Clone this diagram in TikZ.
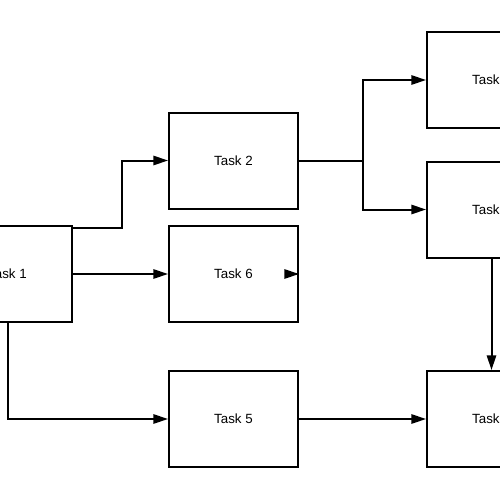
\documentclass[tikz,border=0pt]{standalone}
\usepackage{fontspec}
\setmainfont{Liberation Sans}
\usetikzlibrary{arrows.meta,calc}
\tikzset{
  task/.style={draw, line width=1.5pt, fill=white, minimum width=96.75pt, minimum height=72pt, inner sep=0pt, font=\fontsize{10}{12}\selectfont},
  arr/.style={line width=1.5pt, -{Triangle[length=11pt,width=7pt]}}
}
\begin{document}
\begin{tikzpicture}[x=0.75pt,y=0.75pt,yscale=-1,xscale=1]
\useasboundingbox (0,0) rectangle (500,500);
\clip (0,0) rectangle (500,500);

% Tasks
\node[task] (t1) at (7.5,274) {Task 1};
\node[task] (t2) at (233.5,160.5) {Task 2};
\node[task] (t6) at (233.5,274) {Task 6};
\node[task] (t5) at (233.5,419) {Task 5};
\node[task] (t3) at (491.5,80) {Task 3};
\node[task] (t4) at (491.5,209.5) {Task 4};
\node[task] (t7) at (491.5,419) {Task 7};

% Connectors
\draw[arr] ($(t1.north east)+(0,3)$) -- ++(49,0) |- (t2);
\draw[arr] (t1) -- (t6);
\draw[arr] (t1.south) |- (t5);
\draw[arr] (t2.east) -- ++(64,0) |- (t3);
\draw[arr] (t2.east) -- ++(64,0) |- (t4);
\draw[arr] (t4) -- (t7);
\draw[arr] (t5) -- (t7);
\draw[arr] ($(t6.east)+(-1,0)$) -- (t6.east);

\end{tikzpicture}
\end{document}
